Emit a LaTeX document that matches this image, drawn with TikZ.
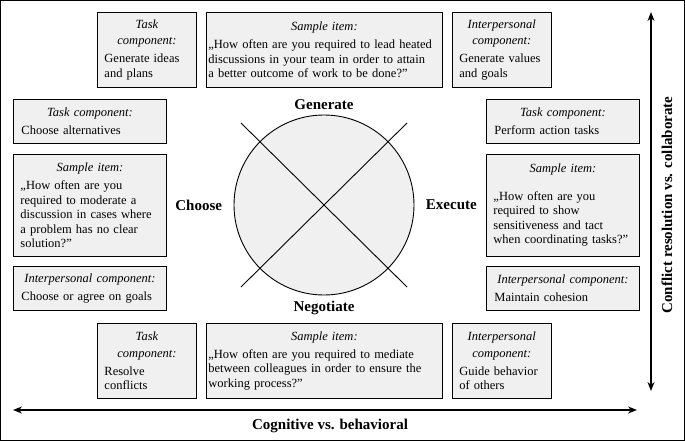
\documentclass[tikz,border=0pt]{standalone}
\usepackage{fontspec}
\setmainfont{Liberation Serif}
\usetikzlibrary{positioning,arrows.meta}

\newcommand{\boxhead}[2][3.5pt]{{\centering\itshape\fontsize{12.5}{16.5}\selectfont #2\par}\vspace{#1}}

\tikzset{
  card/.style={draw, line width=0.9pt, fill=gray!12, align=left, inner xsep=7pt, inner ysep=2pt, font=\fontsize{12.5}{14.5}\selectfont},
  topcard/.style={card, minimum width=99pt, minimum height=75pt, text width=85pt},
  widecard/.style={card, inner xsep=2pt, minimum width=236pt, minimum height=75pt, text width=232pt},
  sidecard/.style={card, inner xsep=8pt, minimum width=153pt, minimum height=44pt, text width=137pt},
  itemcard/.style={card, inner xsep=7pt, minimum width=153pt, minimum height=102pt, text width=139pt},
  bigword/.style={font=\fontsize{15}{18}\selectfont\bfseries},
  axis/.style={line width=1.5pt, {Stealth[length=9pt,width=7pt]}-{Stealth[length=9pt,width=7pt]}}
}

\begin{document}
\begin{tikzpicture}[x=1pt, y=-1pt]
        \useasboundingbox (0,0) rectangle (685,441);
        \draw[line width=1.2pt] (0.6,0.6) rectangle (684.4,440.4);

        % Generate row
        \node[topcard, anchor=north west] (gentask) at (97,12) {\boxhead{Task\\component:}Generate ideas\\and plans};
        \node[widecard, right=9pt of gentask] (gensample) {\boxhead{Sample item:}„How often are you required to lead heated\\discussions in your team in order to attain\\a better outcome of work to be done?”};
        \node[topcard, right=9pt of gensample] (geninter) {\boxhead{Interpersonal\\component:}Generate values\\and goals};

        % Choose column
        \node[sidecard, anchor=north west] (chtask) at (13,99) {\boxhead{Task component:}Choose alternatives};
        \node[itemcard, below=10pt of chtask] (chsample) {\boxhead{Sample item:}„How often are you\\required to moderate a\\discussion in cases where\\a problem has no clear\\solution?”};
        \node[sidecard, below=9pt of chsample] (chinter) {\boxhead{Interpersonal component:}Choose or agree on goals};

        % Execute column
        \node[sidecard, anchor=north west] (extask) at (486,99) {\boxhead{Task component:}Perform action tasks};
        \node[itemcard, below=10pt of extask] (exsample) {\boxhead[13pt]{Sample item:}„How often are you\\required to show\\sensitiveness and tact\\when coordinating tasks?”};
        \node[sidecard, below=9pt of exsample] (exinter) {\boxhead{Interpersonal component:}Maintain cohesion};

        % Negotiate row
        \node[topcard, anchor=north west] (negtask) at (97,323) {\boxhead{Task\\component:}Resolve\\conflicts};
        \node[widecard, right=9pt of negtask] (negsample) {\boxhead{Sample item:}„How often are you required to mediate\\between colleagues in order to ensure the\\working process?”};
        \node[topcard, right=9pt of negsample] (neginter) {\boxhead{Interpersonal\\component:}Guide behavior\\of others};

        % Circle with cross
        \node[circle, draw, line width=0.9pt, fill=gray!12, minimum size=180pt, inner sep=0pt] (wheel) at (324,205) {};
        \draw[line width=0.9pt] ([shift={(-83pt,82pt)}]wheel.center) -- ([shift={(83pt,-82pt)}]wheel.center);
        \draw[line width=0.9pt] ([shift={(-83pt,-82pt)}]wheel.center) -- ([shift={(83pt,82pt)}]wheel.center);

        \node[bigword, above=1pt of wheel] (generate) {Generate};
        \node[bigword, below=2pt of wheel] (negotiate) {Negotiate};
        \node[bigword, left=8pt of wheel] (choose) {Choose};
        \node[bigword, right=8pt of wheel] (execute) {Execute};

        % Axes
        \coordinate (xleft) at (13,410);
        \coordinate (xright) at (637,410);
        \draw[axis] (xleft) -- (xright);
        \node[bigword] (xlabel) at (330,426) {Cognitive vs. behavioral};

        \coordinate (ytop) at (651,12);
        \coordinate (ybottom) at (651,391);
        \draw[axis] (ytop) -- (ybottom);
        \node[bigword, rotate=90] (ylabel) at (667,205) {Conflict resolution vs. collaborate};

\end{tikzpicture}
\end{document}
